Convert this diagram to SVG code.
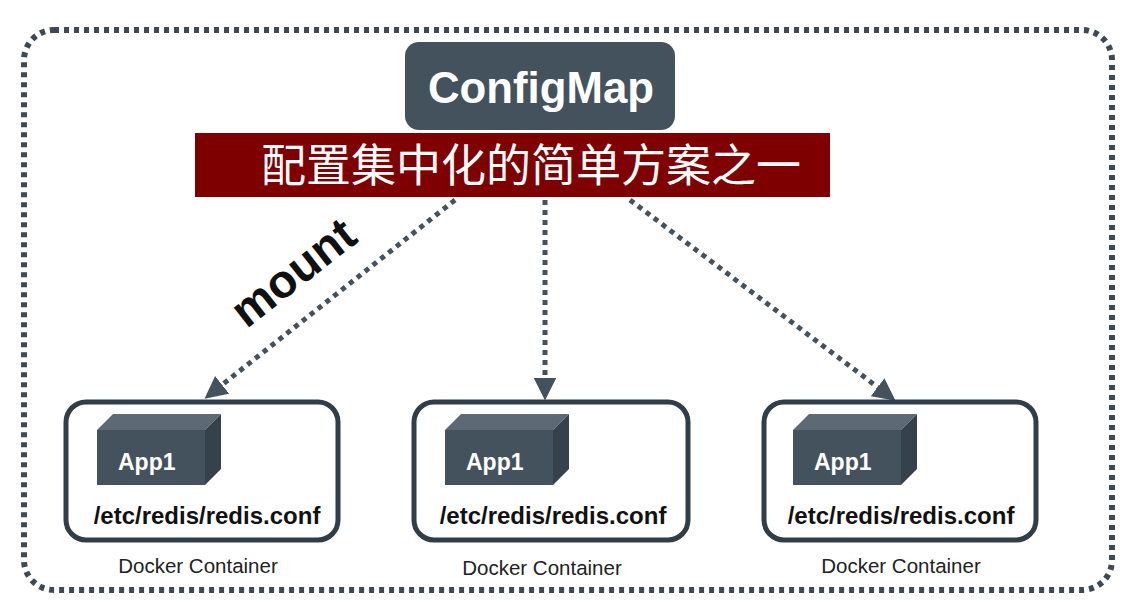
<svg xmlns="http://www.w3.org/2000/svg" width="1137" height="603" viewBox="0 0 1137 603">
<style>
.box{fill:#fff;stroke:#2f3e48;stroke-width:5}
.front{fill:#44525e}.top{fill:#5d6a75}.side{fill:#35414b}
.app{font:bold 23px "Liberation Sans",Arial,sans-serif;fill:#fff}
.path{font:bold 24px "Liberation Sans",Arial,sans-serif;fill:#111;text-anchor:middle}
.dc{font:20.5px "Liberation Sans",Arial,sans-serif;fill:#222;text-anchor:middle}
.conn{stroke:#44525e;stroke-width:5;stroke-dasharray:5 5;fill:none}
</style>
<defs>
<marker id="ah" viewBox="0 0 10 10" refX="8" refY="5" markerWidth="4.5" markerHeight="4.5" orient="auto" markerUnits="strokeWidth">
<path d="M0,0L10,5L0,10z" fill="#44525e"/>
</marker>
<g id="cube">
<polygon class="top" points="0,16 16,0 124,0 108,16"/>
<polygon class="side" points="108,16 124,0 124,55 108,71"/>
<rect class="front" x="0" y="16" width="108" height="55"/>
</g>
</defs>
<rect width="1137" height="603" fill="#fff"/>
<rect x="24" y="30" width="1088" height="560" rx="30" fill="none" stroke="#3d4a55" stroke-width="6" stroke-dasharray="5 5"/>
<g id="connectors">
<line class="conn" x1="455" y1="200" x2="208" y2="396" marker-end="url(#ah)"/>
<line class="conn" x1="545" y1="200" x2="545" y2="396" marker-end="url(#ah)"/>
<line class="conn" x1="630" y1="200" x2="892" y2="398" marker-end="url(#ah)"/>
<text transform="translate(303,285) rotate(-38)" text-anchor="middle" font-family="Liberation Sans,Arial,sans-serif" font-weight="bold" font-size="47" fill="#111">mount</text>
</g>
<g id="configmap">
<rect x="405" y="42" width="270" height="88" rx="14" fill="#44525e"/>
<text x="541" y="103" text-anchor="middle" font-family="Liberation Sans,Arial,sans-serif" font-weight="bold" font-size="44" fill="#fff" textLength="226" lengthAdjust="spacingAndGlyphs">ConfigMap</text>
</g>
<g id="banner">
<rect x="195" y="133" width="635" height="64" fill="#7f0000"/>
<text x="531" y="182" text-anchor="middle" font-family="Liberation Sans,'Noto Sans CJK SC',sans-serif" font-size="45" fill="#fff">配置集中化的简单方案之一</text>
</g>
<g id="container1">
<rect class="box" x="66" y="402" width="272" height="138" rx="20"/>
<use href="#cube" x="97" y="414"/>
<text class="app" x="118" y="470">App1</text>
<text class="path" x="207" y="524">/etc/redis/redis.conf</text>
<text class="dc" x="198" y="573">Docker Container</text>
</g>
<g id="container2">
<rect class="box" x="414" y="402" width="274" height="138" rx="20"/>
<use href="#cube" x="445" y="414"/>
<text class="app" x="466" y="470">App1</text>
<text class="path" x="553" y="524">/etc/redis/redis.conf</text>
<text class="dc" x="542" y="575">Docker Container</text>
</g>
<g id="container3">
<rect class="box" x="764" y="402" width="272" height="138" rx="20"/>
<use href="#cube" x="793" y="414"/>
<text class="app" x="814" y="470">App1</text>
<text class="path" x="901" y="524">/etc/redis/redis.conf</text>
<text class="dc" x="901" y="573">Docker Container</text>
</g>
</svg>
